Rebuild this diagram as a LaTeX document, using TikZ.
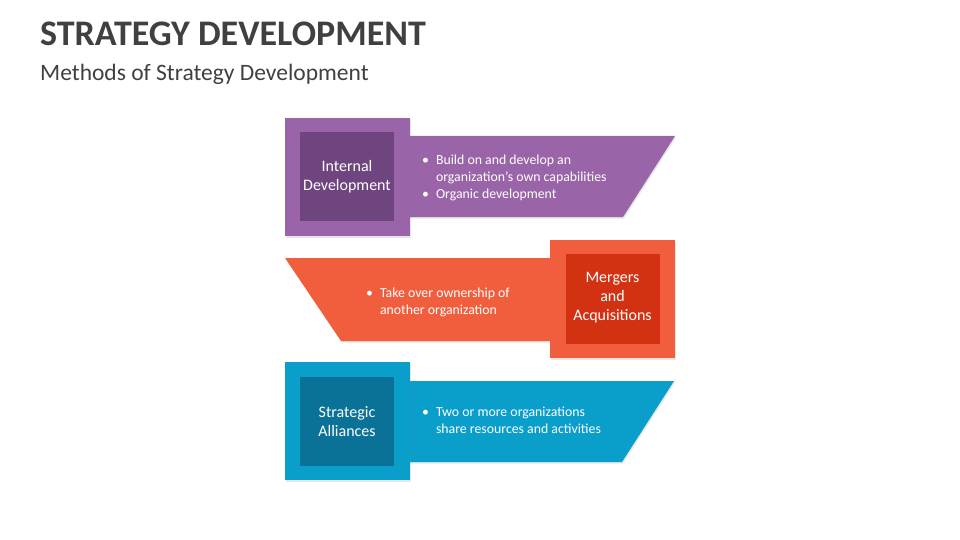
\documentclass[tikz,border=0pt]{standalone}
\usepackage{fontspec}
\setmainfont{Carlito}
\usetikzlibrary{shadows}

\definecolor{titlegray}{HTML}{404040}
\definecolor{purplelight}{HTML}{9A64A9}
\definecolor{purpledark}{HTML}{6F4580}
\definecolor{orangelight}{HTML}{F05E3D}
\definecolor{orangedark}{HTML}{D33212}
\definecolor{bluelight}{HTML}{0A9ECB}
\definecolor{bluedark}{HTML}{0B7297}

\begin{document}
\begin{tikzpicture}[x=1pt,y=-1pt,
    shade/.style={drop shadow={shadow xshift=1pt,shadow yshift=-1.5pt,opacity=0.2}},
    headtext/.style={text=white,align=center,font=\fontsize{16}{19}\selectfont},
    bullettext/.style={text=white,anchor=north west,inner sep=0pt,font=\fontsize{13.8}{17}\selectfont}
]
    \useasboundingbox (0,0) rectangle (960,540);
    % title
    \node[anchor=base west,inner sep=0pt,text=titlegray,font=\bfseries\fontsize{36}{40}\selectfont] (title) at (40,46) {STRATEGY DEVELOPMENT};
    \node[anchor=base west,inner sep=0pt,text=titlegray,font=\fontsize{23.5}{26}\selectfont] (subtitle) at (40,81) {Methods of Strategy Development};

    % internal development
    \fill[purplelight,shade] (405,136) -- (675,136) -- (623,217) -- (405,217) -- cycle;
    \fill[purplelight,shade] (285,118) rectangle (410,236);
    \fill[purpledark] (300,132) rectangle (394,221);
    \node[headtext] (internal) at (347,176.5) {Internal\\Development};
    \node[bullettext] (internalpts) at (422,152.5) {\begin{tabular}{@{}l@{\hspace{7pt}}l@{}}
        \textbullet & Build on and develop an\\
        & organization’s own capabilities\\
        \textbullet & Organic development
    \end{tabular}};

    % mergers and acquisitions
    \fill[orangelight,shade] (285,258) -- (555,258) -- (555,341) -- (341,341) -- cycle;
    \fill[orangelight,shade] (550,240) rectangle (675,358);
    \fill[orangedark] (566,254) rectangle (660,344);
    \node[headtext] (mergers) at (612.5,298) {Mergers\\and\\Acquisitions};
    \node[bullettext] (mergerspts) at (366,285.5) {\begin{tabular}{@{}l@{\hspace{7pt}}l@{}}
        \textbullet & Take over ownership of\\
        & another organization
    \end{tabular}};

    % strategic alliances
    \fill[bluelight,shade] (405,381) -- (674,381) -- (622,462) -- (405,462) -- cycle;
    \fill[bluelight,shade] (285,362) rectangle (410,480);
    \fill[bluedark] (300,377) rectangle (394,466);
    \node[headtext] (alliances) at (347,421.5) {Strategic\\Alliances};
    \node[bullettext] (alliancespts) at (422,404.5) {\begin{tabular}{@{}l@{\hspace{7pt}}l@{}}
        \textbullet & Two or more organizations\\
        & share resources and activities
    \end{tabular}};
\end{tikzpicture}
\end{document}
